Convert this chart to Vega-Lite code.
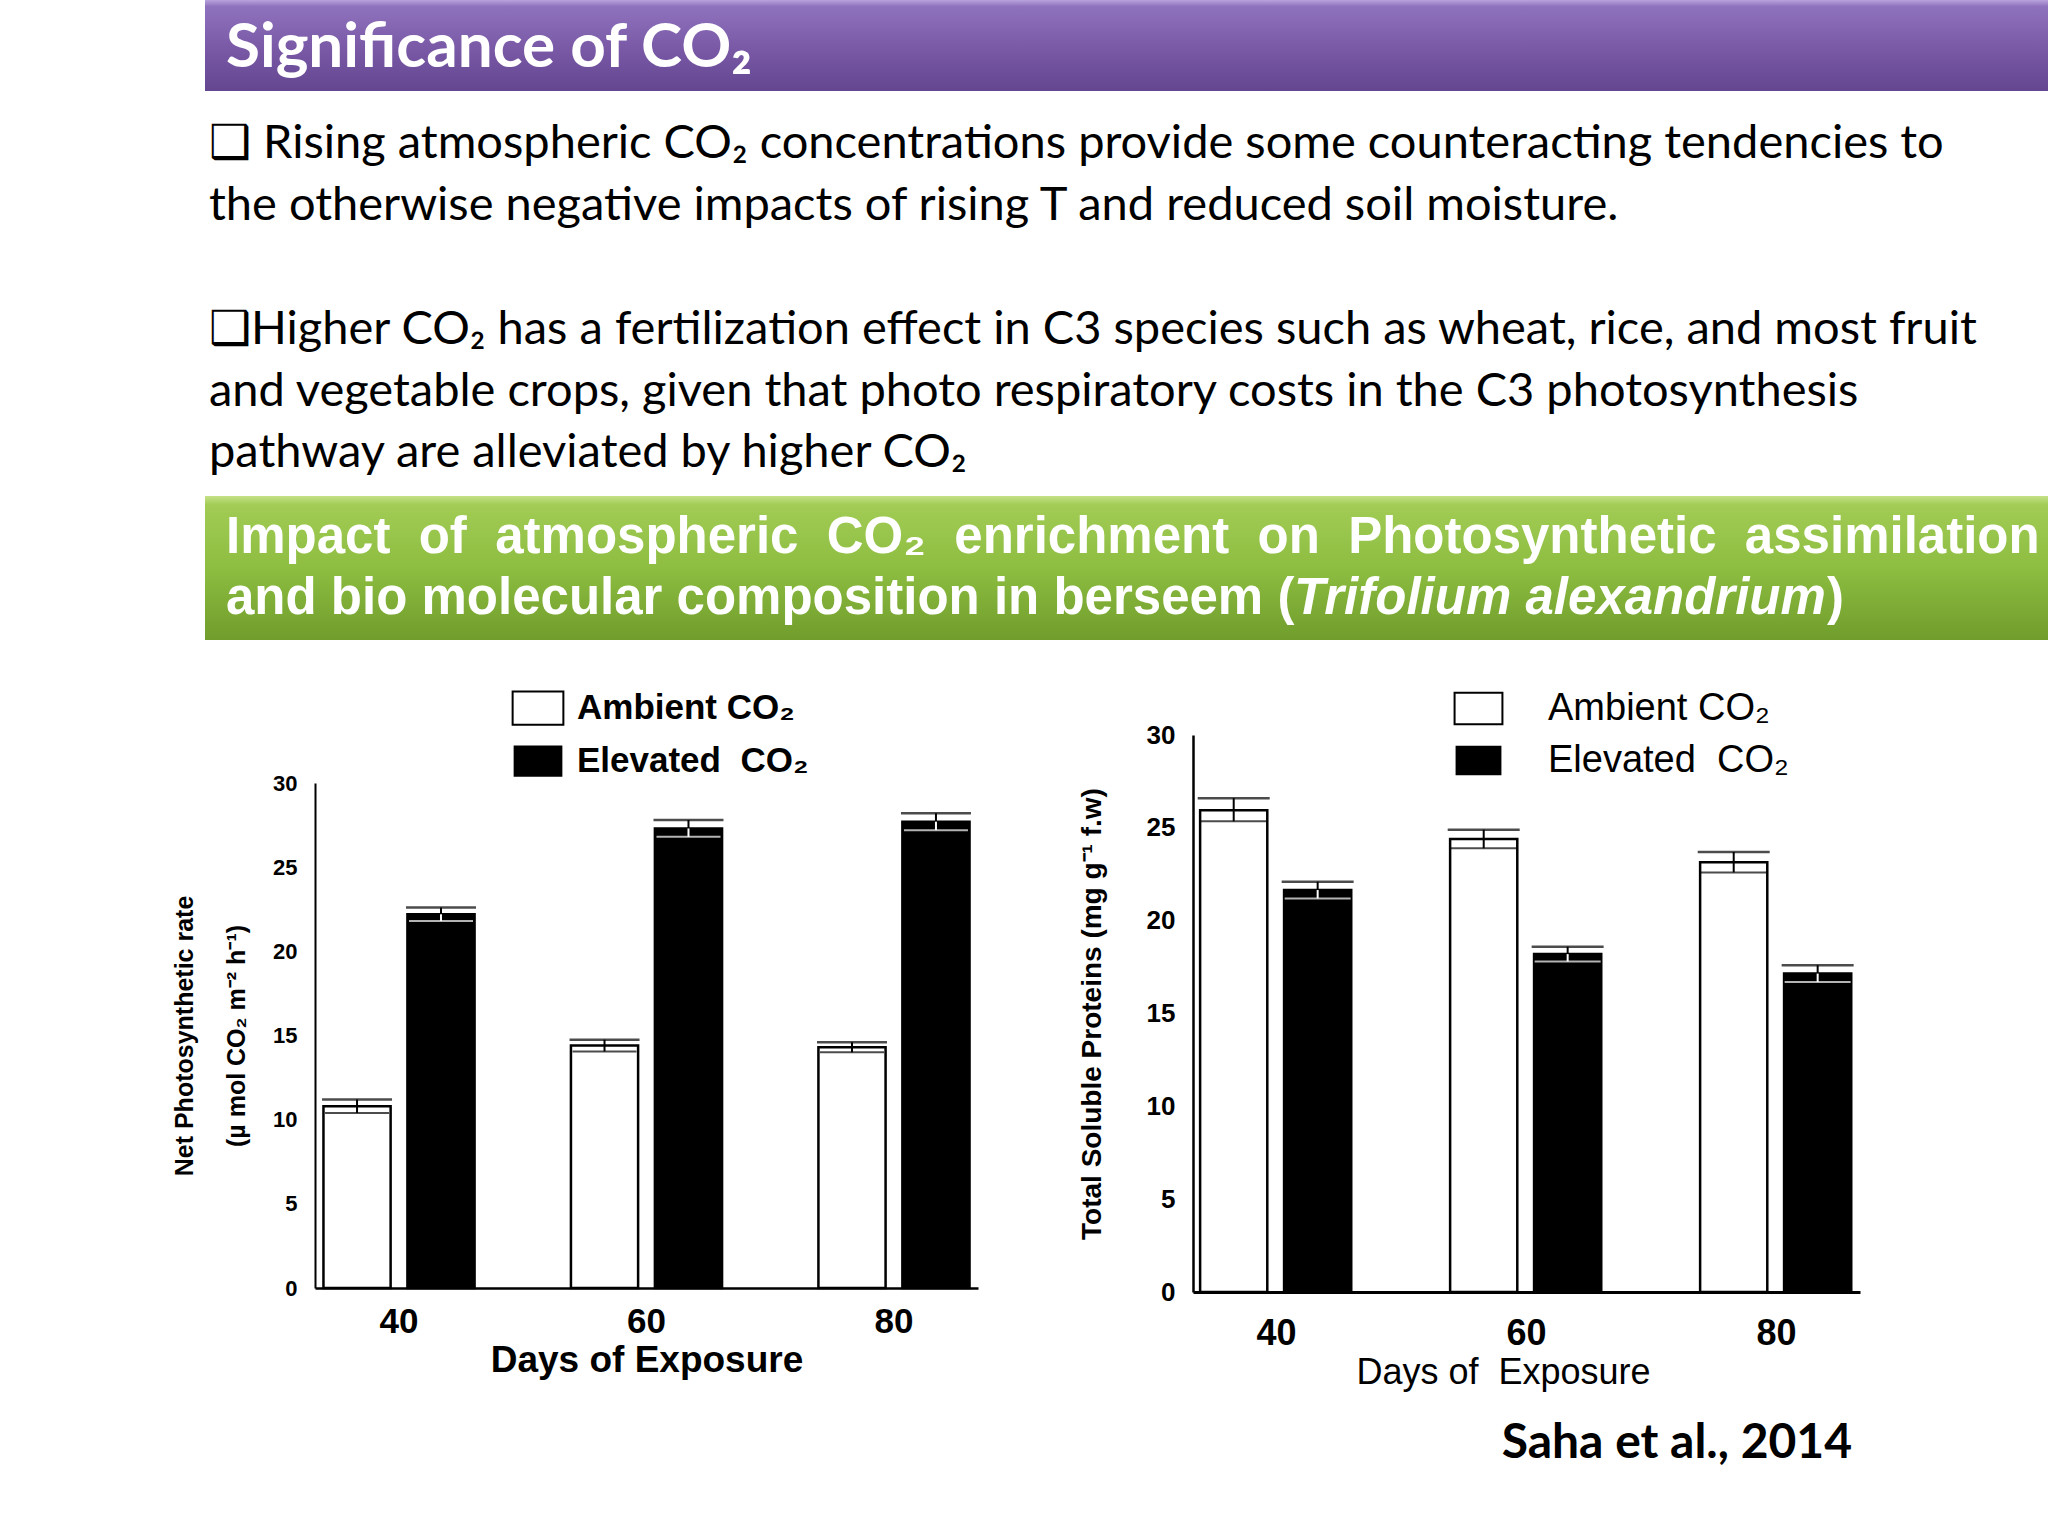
{
  "$schema": "https://vega.github.io/schema/vega-lite/v6.json",
  "background": "white",
  "padding": {"left": 172, "top": 0, "right": 0, "bottom": 0},
  "spacing": 0,
  "config": {
    "view": {"stroke": null},
    "axis": {"labelFont": "Liberation Sans", "titleFont": "Liberation Sans", "domainColor": "black", "labelColor": "black", "titleColor": "black", "grid": false, "ticks": false, "tickSize": 0},
    "legend": {"labelFont": "Liberation Sans", "labelColor": "black", "labelLimit": 500}
  },
  "datasets": {
    "photo": [
      {"day": "40", "series": "Ambient CO₂", "value": 10.8, "lo": 10.4, "hi": 11.2},
      {"day": "60", "series": "Ambient CO₂", "value": 14.4, "lo": 14.05, "hi": 14.75},
      {"day": "80", "series": "Ambient CO₂", "value": 14.3, "lo": 14.0, "hi": 14.6},
      {"day": "40", "series": "Elevated\u00a0 CO₂", "value": 22.2, "lo": 21.8, "hi": 22.6},
      {"day": "60", "series": "Elevated\u00a0 CO₂", "value": 27.3, "lo": 26.8, "hi": 27.8},
      {"day": "80", "series": "Elevated\u00a0 CO₂", "value": 27.7, "lo": 27.2, "hi": 28.2}
    ],
    "protein": [
      {"day": "40", "series": "Ambient CO₂", "value": 25.95, "lo": 25.35, "hi": 26.6},
      {"day": "60", "series": "Ambient CO₂", "value": 24.4, "lo": 23.9, "hi": 24.9},
      {"day": "80", "series": "Ambient CO₂", "value": 23.15, "lo": 22.6, "hi": 23.7},
      {"day": "40", "series": "Elevated\u00a0 CO₂", "value": 21.65, "lo": 21.2, "hi": 22.1},
      {"day": "60", "series": "Elevated\u00a0 CO₂", "value": 18.2, "lo": 17.8, "hi": 18.6},
      {"day": "80", "series": "Elevated\u00a0 CO₂", "value": 17.15, "lo": 16.7, "hi": 17.6}
    ]
  },
  "vconcat": [
    {
      "width": 1843, "height": 91,
      "view": {"stroke": null, "fill": {"gradient": "linear", "x1": 0, "y1": 0, "x2": 0, "y2": 1, "stops": [{"offset": 0, "color": "#b9a3dd"}, {"offset": 0.07, "color": "#8f72bd"}, {"offset": 0.5, "color": "#7b5ba8"}, {"offset": 1, "color": "#634590"}]}},
      "data": {"values": [{"line": 1, "text": "Significance of CO₂"}]},
      "mark": {"type": "text", "align": "left", "baseline": "middle", "x": 21, "font": "Lato", "fontWeight": "bold", "fontSize": 62, "color": "white"},
      "encoding": {
        "y": {"field": "line", "type": "quantitative", "scale": {"domain": [0, 1.9], "range": [0, 91], "zero": false, "nice": false}, "axis": null},
        "text": {"field": "text"}
      }
    },
    {
      "width": 1843, "height": 405,
      "data": {"values": [
        {"line": 1, "text": "❑ Rising atmospheric CO₂ concentrations provide some counteracting tendencies to"},
        {"line": 2, "text": "the otherwise negative impacts of rising T and reduced soil moisture."},
        {"line": 4, "text": "❑Higher CO₂ has a fertilization effect in C3 species such as wheat, rice, and most fruit"},
        {"line": 5, "text": "and vegetable crops, given that photo respiratory costs in the C3 photosynthesis"},
        {"line": 6, "text": "pathway are alleviated by higher CO₂"}
      ]},
      "mark": {"type": "text", "align": "left", "baseline": "middle", "x": 4, "font": "Lato", "fontSize": 47, "color": "black"},
      "encoding": {
        "y": {"field": "line", "type": "quantitative", "scale": {"domain": [0.144, 6.687], "range": [0, 405], "zero": false, "nice": false}, "axis": null},
        "text": {"field": "text"}
      }
    },
    {
      "width": 1843, "height": 144,
      "view": {"stroke": null, "fill": {"gradient": "linear", "x1": 0, "y1": 0, "x2": 0, "y2": 1, "stops": [{"offset": 0, "color": "#c6e28a"}, {"offset": 0.06, "color": "#a2cc55"}, {"offset": 0.5, "color": "#8dbd41"}, {"offset": 1, "color": "#709d2c"}]}},
      "data": {"values": [
        {"line": 1, "part": "a", "text": "Impact\u00a0 of\u00a0 atmospheric\u00a0 CO₂\u00a0 enrichment\u00a0 on\u00a0 Photosynthetic\u00a0 assimilation"},
        {"line": 2, "part": "a", "text": "and bio molecular composition in berseem ("},
        {"line": 2, "part": "b", "text": "Trifolium alexandrium"},
        {"line": 2, "part": "c", "text": ")"}
      ]},
      "encoding": {
        "y": {"field": "line", "type": "quantitative", "scale": {"domain": [0.311, 2.672], "range": [0, 144], "zero": false, "nice": false}, "axis": null},
        "text": {"field": "text"}
      },
      "layer": [
        {"transform": [{"filter": "datum.part == 'a'"}], "mark": {"type": "text", "align": "left", "baseline": "middle", "x": 21, "font": "Liberation Sans", "fontWeight": "bold", "fontSize": 51, "color": "white"}},
        {"transform": [{"filter": "datum.part == 'b'"}], "mark": {"type": "text", "align": "left", "baseline": "middle", "x": 1089, "font": "Liberation Sans", "fontWeight": "bold", "fontStyle": "italic", "fontSize": 51, "color": "white"}},
        {"transform": [{"filter": "datum.part == 'c'"}], "mark": {"type": "text", "align": "left", "baseline": "middle", "x": 1622, "font": "Liberation Sans", "fontWeight": "bold", "fontSize": 51, "color": "white"}}
      ]
    },
    {
      "spacing": 100,
      "resolve": {"scale": {"fill": "independent", "stroke": "independent", "color": "independent"}, "legend": {"fill": "independent"}},
      "hconcat": [
        {
          "width": 773, "height": 648,
          "data": {"name": "photo"},
          "encoding": {
            "x": {"field": "day", "type": "ordinal", "scale": {"range": [110, 773], "paddingInner": 0.35, "paddingOuter": 0.0145},
                  "axis": {"title": "Days of Exposure", "labelAngle": 0, "labelFontSize": 35, "labelFontWeight": "bold", "labelPadding": 16, "titleFontSize": 37, "titleFontWeight": "bold", "titlePadding": 3, "domainWidth": 2.5}},
            "xOffset": {"field": "series", "type": "nominal", "scale": {"domain": ["Ambient CO₂", "Elevated\u00a0 CO₂"], "paddingInner": 0.2, "paddingOuter": 0.058}}
          },
          "layer": [
            {
              "mark": {"type": "bar", "stroke": "black", "strokeWidth": 2.5},
              "encoding": {
                "y": {"field": "value", "type": "quantitative", "scale": {"domain": [0, 30], "range": [648, 143], "nice": false, "zero": true},
                      "axis": {"title": ["Net Photosynthetic rate", "(µ mol CO₂ m⁻² h⁻¹)"], "values": [0, 5, 10, 15, 20, 25, 30], "offset": -110, "domainWidth": 2, "labelFontSize": 22, "labelFontWeight": "bold", "labelPadding": 18, "titleFontSize": 25, "titleFontWeight": "bold", "titlePadding": 23, "titleLineHeight": 52}},
                "fill": {"field": "series", "type": "nominal", "scale": {"domain": ["Ambient CO₂", "Elevated\u00a0 CO₂"], "range": ["white", "black"]},
                         "legend": {"orient": "none", "legendX": 314.5, "legendY": 49.5, "title": null, "padding": 0, "symbolType": "M-1.45,-0.95H1.45V0.95H-1.45Z", "symbolSize": 1225, "symbolStrokeColor": "black", "symbolStrokeWidth": 2, "labelFontSize": 35, "labelFontWeight": "bold", "labelOffset": 20.5, "rowPadding": 10}}
              }
            },
            {
              "mark": {"type": "rule", "color": "black", "strokeWidth": 2},
              "encoding": {"y": {"field": "value", "type": "quantitative",
                      "axis": {"title": ["Net Photosynthetic rate", "(µ mol CO₂ m⁻² h⁻¹)"], "values": [0, 5, 10, 15, 20, 25, 30], "offset": -110, "domainWidth": 2, "labelFontSize": 22, "labelFontWeight": "bold", "labelPadding": 18, "titleFontSize": 25, "titleFontWeight": "bold", "titlePadding": 23, "titleLineHeight": 52}}, "y2": {"field": "hi"}}
            },
            {
              "mark": {"type": "rule", "strokeWidth": 2},
              "encoding": {"y": {"field": "lo", "type": "quantitative",
                      "axis": {"title": ["Net Photosynthetic rate", "(µ mol CO₂ m⁻² h⁻¹)"], "values": [0, 5, 10, 15, 20, 25, 30], "offset": -110, "domainWidth": 2, "labelFontSize": 22, "labelFontWeight": "bold", "labelPadding": 18, "titleFontSize": 25, "titleFontWeight": "bold", "titlePadding": 23, "titleLineHeight": 52}}, "y2": {"field": "value"},
                           "stroke": {"field": "series", "type": "nominal", "scale": {"domain": ["Ambient CO₂", "Elevated\u00a0 CO₂"], "range": ["black", "white"]}, "legend": null}}
            },
            {
              "mark": {"type": "tick", "orient": "horizontal", "size": 70, "thickness": 2.5, "color": "black"},
              "encoding": {"y": {"field": "hi", "type": "quantitative",
                      "axis": {"title": ["Net Photosynthetic rate", "(µ mol CO₂ m⁻² h⁻¹)"], "values": [0, 5, 10, 15, 20, 25, 30], "offset": -110, "domainWidth": 2, "labelFontSize": 22, "labelFontWeight": "bold", "labelPadding": 18, "titleFontSize": 25, "titleFontWeight": "bold", "titlePadding": 23, "titleLineHeight": 52}}}
            },
            {
              "mark": {"type": "tick", "orient": "horizontal", "size": 64, "thickness": 2},
              "encoding": {"y": {"field": "lo", "type": "quantitative",
                      "axis": {"title": ["Net Photosynthetic rate", "(µ mol CO₂ m⁻² h⁻¹)"], "values": [0, 5, 10, 15, 20, 25, 30], "offset": -110, "domainWidth": 2, "labelFontSize": 22, "labelFontWeight": "bold", "labelPadding": 18, "titleFontSize": 25, "titleFontWeight": "bold", "titlePadding": 23, "titleLineHeight": 52}},
                           "color": {"field": "series", "type": "nominal", "scale": {"domain": ["Ambient CO₂", "Elevated\u00a0 CO₂"], "range": ["black", "white"]}, "legend": null}}
            }
          ]
        },
        {
          "width": 667, "height": 652,
          "data": {"name": "protein"},
          "title": {"text": "Saha et al., 2014", "orient": "bottom", "anchor": "end", "font": "Lato", "fontWeight": "bold", "fontSize": 48, "color": "black", "offset": 30, "dx": -8},
          "encoding": {
            "x": {"field": "day", "type": "ordinal", "scale": {"paddingInner": 0.35, "paddingOuter": 0.009},
                  "axis": {"title": "Days of\u00a0 Exposure", "titleX": 310, "labelAngle": 0, "labelFontSize": 36, "labelFontWeight": "bold", "labelPadding": 24, "titleFontSize": 36, "titleFontWeight": "normal", "titlePadding": 4, "domainWidth": 3}},
            "xOffset": {"field": "series", "type": "nominal", "scale": {"domain": ["Ambient CO₂", "Elevated\u00a0 CO₂"], "paddingInner": 0.2, "paddingOuter": 0.058}}
          },
          "layer": [
            {
              "mark": {"type": "bar", "stroke": "black", "strokeWidth": 2.5},
              "encoding": {
                "y": {"field": "value", "type": "quantitative", "scale": {"domain": [0, 30], "range": [652, 95], "nice": false, "zero": true},
                      "axis": {"title": "Total Soluble Proteins (mg g⁻¹ f.w)", "values": [0, 5, 10, 15, 20, 25, 30], "domainWidth": 2.5, "labelFontSize": 26, "labelFontWeight": "bold", "labelPadding": 18, "titleFontSize": 28, "titleFontWeight": "bold", "titlePadding": 40}},
                "fill": {"field": "series", "type": "nominal", "scale": {"domain": ["Ambient CO₂", "Elevated\u00a0 CO₂"], "range": ["white", "black"]},
                         "legend": {"orient": "none", "legendX": 266.5, "legendY": 49.5, "title": null, "padding": 0, "symbolType": "M-1.45,-0.95H1.45V0.95H-1.45Z", "symbolSize": 1089, "symbolStrokeColor": "black", "symbolStrokeWidth": 2, "labelFontSize": 38, "labelFontWeight": "normal", "labelOffset": 50.5, "rowPadding": 12}}
              }
            },
            {
              "mark": {"type": "rule", "color": "black", "strokeWidth": 2},
              "encoding": {"y": {"field": "value", "type": "quantitative",
                      "axis": {"title": "Total Soluble Proteins (mg g⁻¹ f.w)", "values": [0, 5, 10, 15, 20, 25, 30], "domainWidth": 2.5, "labelFontSize": 26, "labelFontWeight": "bold", "labelPadding": 18, "titleFontSize": 28, "titleFontWeight": "bold", "titlePadding": 40}}, "y2": {"field": "hi"}}
            },
            {
              "mark": {"type": "rule", "strokeWidth": 2},
              "encoding": {"y": {"field": "lo", "type": "quantitative",
                      "axis": {"title": "Total Soluble Proteins (mg g⁻¹ f.w)", "values": [0, 5, 10, 15, 20, 25, 30], "domainWidth": 2.5, "labelFontSize": 26, "labelFontWeight": "bold", "labelPadding": 18, "titleFontSize": 28, "titleFontWeight": "bold", "titlePadding": 40}}, "y2": {"field": "value"},
                           "stroke": {"field": "series", "type": "nominal", "scale": {"domain": ["Ambient CO₂", "Elevated\u00a0 CO₂"], "range": ["black", "white"]}, "legend": null}}
            },
            {
              "mark": {"type": "tick", "orient": "horizontal", "size": 72, "thickness": 2.5, "color": "black"},
              "encoding": {"y": {"field": "hi", "type": "quantitative",
                      "axis": {"title": "Total Soluble Proteins (mg g⁻¹ f.w)", "values": [0, 5, 10, 15, 20, 25, 30], "domainWidth": 2.5, "labelFontSize": 26, "labelFontWeight": "bold", "labelPadding": 18, "titleFontSize": 28, "titleFontWeight": "bold", "titlePadding": 40}}}
            },
            {
              "mark": {"type": "tick", "orient": "horizontal", "size": 66, "thickness": 2},
              "encoding": {"y": {"field": "lo", "type": "quantitative",
                      "axis": {"title": "Total Soluble Proteins (mg g⁻¹ f.w)", "values": [0, 5, 10, 15, 20, 25, 30], "domainWidth": 2.5, "labelFontSize": 26, "labelFontWeight": "bold", "labelPadding": 18, "titleFontSize": 28, "titleFontWeight": "bold", "titlePadding": 40}},
                           "color": {"field": "series", "type": "nominal", "scale": {"domain": ["Ambient CO₂", "Elevated\u00a0 CO₂"], "range": ["black", "white"]}, "legend": null}}
            }
          ]
        }
      ]
    }
  ]
}
